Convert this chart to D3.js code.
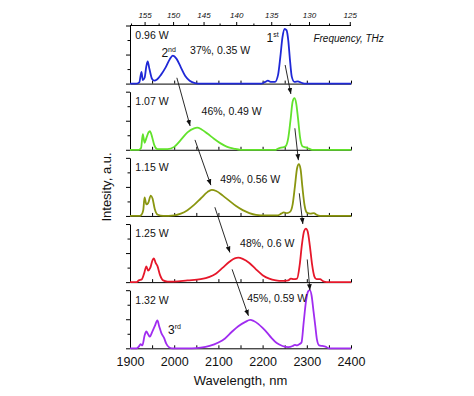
<!DOCTYPE html>
<html>
<head>
<meta charset="utf-8">
<script src="https://cdn.jsdelivr.net/npm/d3@7"></script>
<style>
  body { margin: 0; background: #fff; }
  svg { display: block; font-family: "Liberation Sans", Arial, sans-serif; }
  .axis path, .axis line { stroke: #000; stroke-width: 1; }
  .axis text { fill: #111; }
</style>
</head>
<body>
<svg id="chart" width="474" height="396"></svg>
<script>
// power in each panel, top to bottom
var panelPower = ['0.96 W', '1.07 W', '1.15 W', '1.25 W', '1.32 W'];
var panelColor = ['#1f28d6', '#62e22c', '#8a9610', '#e6172a', '#a02cf0'];

// conversion efficiency / 2nd stokes power labels
var effLabel = ['37%, 0.35 W', '46%, 0.49 W', '49%, 0.56 W', '48%, 0.6 W', '45%, 0.59 W'];
var effWave = [2036, 2062, 2104, 2149, 2165];
var effLevel = [0.51, 0.59, 0.57, 0.6, 0.79];

// top axis, THz
var freqTicks = [155, 150, 145, 140, 135, 130, 125];

// spectra: [wavelength nm, intensity a.u.]
var spec096 = [[1900,0],[1915,0],[1921,0.02],[1926,0.2],[1929,0.06],[1933,0.1],[1937,0.3],[1940,0.38],[1944,0.25],
  [1950,0.08],[1955,0.05],[1961,0.07],[1970,0.15],[1980,0.27],[1990,0.42],[1997,0.48],[2005,0.43],[2015,0.28],
  [2025,0.13],[2035,0.05],[2047,0.01],[2060,0],[2198,0],[2206,0.03],[2212,0.05],[2218,0.03],[2228,0.03],
  [2235,0.15],[2240,0.45],[2245,0.8],[2250,0.94],[2254,0.92],[2258,0.75],[2262,0.4],[2266,0.12],[2272,0.03],
  [2280,0.04],[2286,0.02],[2295,0],[2400,0]];
var spec107 = [[1900,0],[1920,0],[1925,0.03],[1929,0.27],[1933,0.12],[1937,0.2],[1942,0.3],[1945,0.32],[1950,0.22],
  [1955,0.08],[1962,0.01],[1985,0.01],[2000,0.05],[2015,0.17],[2030,0.3],[2045,0.37],[2052,0.38],[2062,0.35],
  [2075,0.28],[2090,0.19],[2105,0.11],[2120,0.05],[2135,0.02],[2150,0],[2230,0],[2238,0.03],[2245,0.04],
  [2252,0.06],[2258,0.2],[2263,0.5],[2268,0.83],[2272,0.89],[2276,0.8],[2280,0.55],[2285,0.2],[2290,0.06],
  [2298,0.04],[2305,0.02],[2312,0],[2400,0]];
var spec115 = [[1900,0],[1922,0],[1926,0.02],[1930,0.1],[1933,0.32],[1937,0.2],[1941,0.22],[1947,0.35],[1951,0.3],
  [1956,0.12],[1963,0.02],[1975,0],[2000,0.01],[2015,0.04],[2030,0.1],[2045,0.19],[2060,0.3],[2075,0.41],
  [2085,0.45],[2095,0.43],[2110,0.35],[2125,0.26],[2140,0.17],[2155,0.1],[2170,0.05],[2185,0.02],[2205,0.01],
  [2235,0.01],[2242,0.04],[2248,0.06],[2255,0.05],[2262,0.07],[2268,0.2],[2273,0.5],[2278,0.82],[2282,0.89],
  [2286,0.8],[2290,0.5],[2295,0.18],[2300,0.06],[2308,0.04],[2316,0.05],[2322,0.02],[2330,0],[2400,0]];
var spec125 = [[1900,0],[1915,0],[1920,0.03],[1927,0.05],[1932,0.15],[1937,0.27],[1941,0.2],[1946,0.25],[1951,0.38],
  [1954,0.41],[1958,0.33],[1962,0.28],[1968,0.12],[1975,0.03],[1985,0.01],[2000,0.01],[2030,0.03],[2060,0.05],
  [2080,0.09],[2095,0.15],[2110,0.25],[2125,0.35],[2137,0.41],[2145,0.42],[2155,0.4],[2170,0.33],[2185,0.22],
  [2200,0.12],[2215,0.06],[2230,0.03],[2245,0.02],[2258,0.03],[2264,0.06],[2270,0.05],[2278,0.06],[2284,0.3],
  [2289,0.65],[2294,0.88],[2298,0.92],[2302,0.87],[2307,0.62],[2312,0.3],[2317,0.1],[2322,0.05],[2330,0.05],
  [2336,0.02],[2345,0],[2400,0]];
var spec132 = [[1900,0],[1915,0],[1920,0.03],[1924,0.07],[1928,0.05],[1933,0.22],[1937,0.29],[1941,0.24],[1945,0.2],
  [1950,0.28],[1956,0.38],[1962,0.48],[1966,0.38],[1971,0.26],[1977,0.18],[1982,0.08],[1988,0.02],[1995,0],
  [2040,0],[2060,0.01],[2080,0.04],[2100,0.1],[2115,0.17],[2130,0.28],[2145,0.38],[2160,0.45],[2172,0.49],
  [2180,0.47],[2190,0.42],[2200,0.35],[2210,0.27],[2220,0.18],[2232,0.09],[2245,0.04],[2258,0.02],[2268,0.04],
  [2273,0.06],[2278,0.05],[2283,0.07],[2288,0.1],[2293,0.45],[2298,0.8],[2303,0.98],[2307,1.0],[2311,0.9],
  [2315,0.65],[2319,0.4],[2323,0.15],[2328,0.05],[2335,0.04],[2342,0.03],[2350,0],[2400,0]];
var spectra = [spec096, spec107, spec115, spec125, spec132];

// arrows: [panel, wavelength, level] -> [panel, wavelength, level]
var arrowFrom = [[0,2006,0.1],[0,2251,0.32],[1,2047,0.17],[1,2273,0.37],[2,2092,0.15],[2,2283,0.39],[3,2131,0.22],[3,2301,0.39]];
var arrowTo = [[1,2036,0.41],[1,2264,0.96],[2,2083,0.53],[2,2281,0.96],[3,2126,0.51],[3,2291,1.0],[4,2168,0.56],[4,2307,1.0]];

// peak order labels
var orderLabel = [['2', 'nd', 0, 1971, 0.46], ['1', 'st', 0, 2209, 0.72], ['3', 'rd', 4, 1986, 0.25]];

var C = 299792.458; // nm * THz

var svg = d3.select('#chart'),
    x = d3.scaleLinear().domain([1900, 2400]).range([130, 351]),
    band = d3.scaleBand().domain(d3.range(5)).range([25.5, 348.3]).paddingInner(0.122),
    panelH = band.bandwidth();

function yOf(i) {
    return d3.scaleLinear().domain([0, 1]).range([band(i) + panelH, band(i)]);
}

svg.append('rect').attr('width', 474).attr('height', 396).attr('fill', '#fff');

spectra.forEach(function(spec, i) {
    var y = yOf(i),
        g = svg.append('g');

    // left axis, ticks outward
    g.append('g')
        .attr('class', 'axis')
        .attr('transform', 'translate(' + x.range()[0] + ',0)')
        .call(d3.axisLeft(y).tickValues([0, 0.5, 1]).tickSize(4).tickSizeOuter(0).tickFormat(''));
    g.append('g')
        .attr('class', 'axis')
        .attr('transform', 'translate(' + x.range()[0] + ',0)')
        .call(d3.axisLeft(y).tickValues([0.25, 0.75]).tickSize(2.5).tickFormat(''))
        .select('.domain').remove();

    // bottom axis, ticks inward
    var bottom = d3.axisBottom(x)
        .tickValues(d3.range(1900, 2401, 50))
        .tickSizeInner(-3)
        .tickSizeOuter(0)
        .tickPadding(9)
        .tickFormat(function(d) {
            return (i === 4 && d % 100 === 0) ? d : '';
        });
    g.append('g')
        .attr('class', 'axis')
        .attr('transform', 'translate(0,' + y(0) + ')')
        .call(bottom)
        .selectAll('text')
        .style('font-size', '12.5px');

    var line = d3.line()
        .x(function(d) { return x(d[0]); })
        .y(function(d) { return y(d[1]); })
        .curve(d3.curveMonotoneX);

    g.append('path')
        .datum(spec)
        .attr('d', line)
        .attr('fill', 'none')
        .attr('stroke', panelColor[i])
        .attr('stroke-width', 1.8)
        .attr('stroke-linejoin', 'round');

    g.append('text')
        .attr('x', x(1912))
        .attr('y', y(0.77))
        .style('font-size', '10.5px')
        .attr('fill', '#111')
        .text(panelPower[i]);

    g.append('text')
        .attr('x', x(effWave[i]))
        .attr('y', y(effLevel[i]))
        .style('font-size', '10.5px')
        .attr('fill', '#111')
        .text(effLabel[i]);
});

// top frequency axis
var topAxis = svg.append('g').attr('class', 'axis'),
    yTop = band(0);
topAxis.append('line')
    .attr('x1', x.range()[0]).attr('x2', x.range()[1])
    .attr('y1', yTop).attr('y2', yTop);
topAxis.selectAll('line.minor')
    .data(d3.range(157.5, 124.9, -2.5))
    .enter().append('line')
    .attr('class', 'minor')
    .attr('x1', function(d) { return x(C / d); })
    .attr('x2', function(d) { return x(C / d); })
    .attr('y1', yTop)
    .attr('y2', function(d) { return yTop - (d % 5 === 0 ? 3.5 : 2); });
topAxis.selectAll('text')
    .data(freqTicks)
    .enter().append('text')
    .attr('x', function(d) { return x(C / d); })
    .attr('y', yTop - 8)
    .attr('text-anchor', 'middle')
    .style('font-size', '8px')
    .style('font-style', 'italic')
    .text(function(d) { return d; });

svg.append('text')
    .attr('x', x(2315))
    .attr('y', yOf(0)(0.72))
    .style('font-size', '10px')
    .style('font-style', 'italic')
    .attr('fill', '#111')
    .text('Frequency, THz');

// order labels
orderLabel.forEach(function(o) {
    var t = svg.append('text')
        .attr('x', x(o[3]))
        .attr('y', yOf(o[2])(o[4]))
        .style('font-size', '12px')
        .attr('fill', '#111');
    t.append('tspan').text(o[0]);
    t.append('tspan')
        .attr('dy', -5)
        .style('font-size', '7px')
        .text(o[1]);
});

// arrows
svg.append('defs').append('marker')
    .attr('id', 'head')
    .attr('viewBox', '0 0 10 10')
    .attr('refX', 10).attr('refY', 5)
    .attr('markerWidth', 6).attr('markerHeight', 6)
    .attr('markerUnits', 'userSpaceOnUse')
    .attr('orient', 'auto')
    .append('path')
    .attr('d', 'M0,1 L10,5 L0,9 Z')
    .attr('fill', '#111');

svg.selectAll('line.arrow')
    .data(d3.zip(arrowFrom, arrowTo))
    .enter().append('line')
    .attr('class', 'arrow')
    .attr('x1', function(d) { return x(d[0][1]); })
    .attr('y1', function(d) { return yOf(d[0][0])(d[0][2]); })
    .attr('x2', function(d) { return x(d[1][1]); })
    .attr('y2', function(d) { return yOf(d[1][0])(d[1][2]); })
    .attr('stroke', '#111')
    .attr('stroke-width', 0.9)
    .attr('marker-end', 'url(#head)');

// axis titles
svg.append('text')
    .attr('x', (x.range()[0] + x.range()[1]) / 2)
    .attr('y', 385)
    .attr('text-anchor', 'middle')
    .style('font-size', '13px')
    .attr('fill', '#111')
    .text('Wavelength, nm');

svg.append('text')
    .attr('transform', 'translate(111,187) rotate(-90)')
    .attr('text-anchor', 'middle')
    .style('font-size', '13px')
    .attr('fill', '#111')
    .text('Intesity, a.u.');
</script>
</body>
</html>
